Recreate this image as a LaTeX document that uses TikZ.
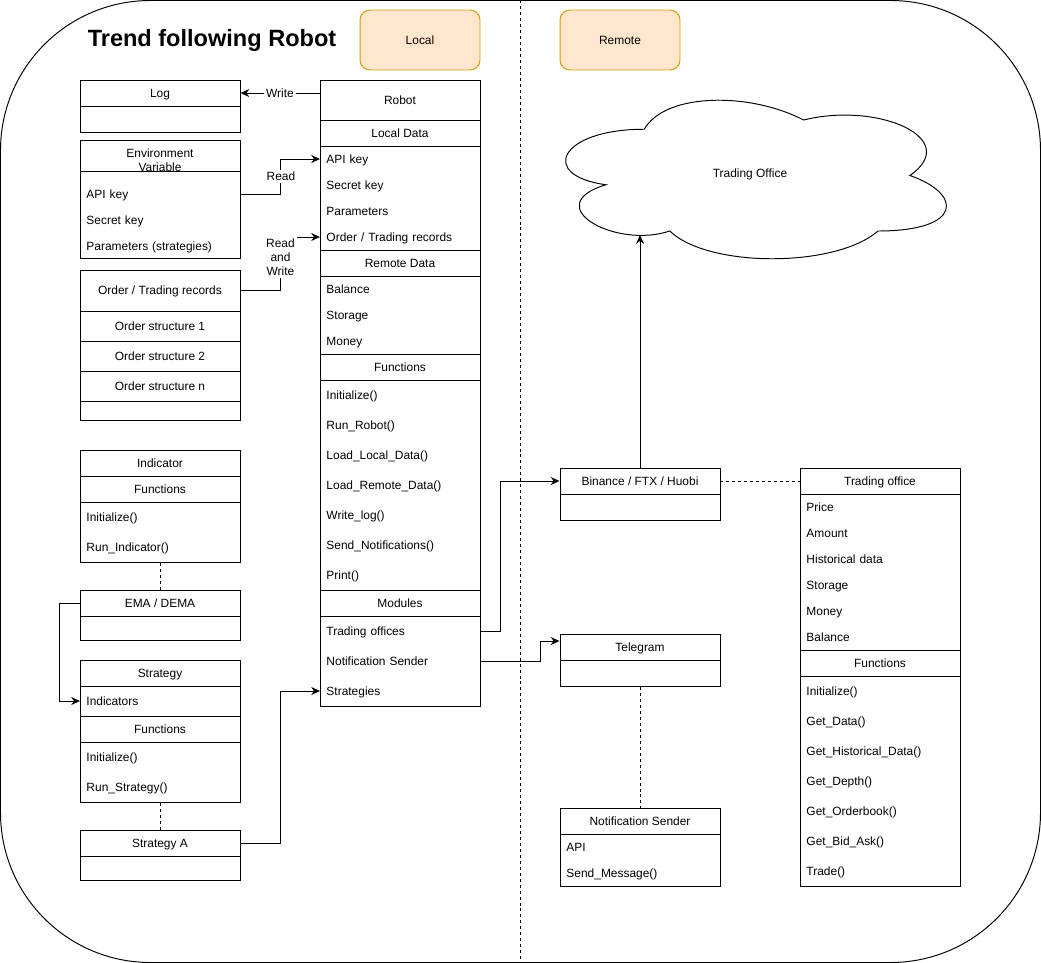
\documentclass[tikz,border=0pt]{standalone}
\usepackage{fontspec}
\setmainfont{Liberation Sans}
\usetikzlibrary{arrows.meta}

\definecolor{zonefill}{HTML}{FFE6CC}
\definecolor{zonedraw}{HTML}{D79B00}

\tikzset{
  txt/.style={font=\fontsize{6.8}{8.1}\selectfont, inner sep=0pt},
  oneline/.style={text height=6.2pt, text depth=1.5pt},
  hdr/.style={txt, oneline, minimum width=3.2cm, minimum height=0.52cm, align=center},
  hdrtwo/.style={txt, minimum width=3.2cm, align=center},
  item/.style={txt, oneline, anchor=west, text width=2.96cm, inner xsep=0.12cm, align=left},
  umlbox/.style={draw, anchor=north west, minimum width=3.2cm, inner sep=0pt},
  lbl/.style={txt, fill=white, align=center, inner sep=1pt},
  zone/.style={txt, draw=zonedraw, fill=zonefill, rounded corners=0.2cm,
    minimum width=2.4cm, minimum height=1.2cm},
  dashln/.style={dash pattern=on 1.7pt off 1.7pt}
}

\begin{document}
\begin{tikzpicture}[x=0.02cm, y=-0.02cm, line width=0.55pt,
  >={Stealth[length=5pt,width=4.5pt]}]

\useasboundingbox (0,0) rectangle (1041,963);

% outer frame and local / remote split
\draw [rounded corners=3cm] (0.5,0.5) rectangle (1040.5,962.5);
\draw [dashln] (520,0.5) -- (520,962.5);

\node [font=\fontsize{13.4}{16}\selectfont\bfseries, anchor=base] (title) at (212,47) {Trend following Robot};
\node [zone] (local) at (420,40) {Local};
\node [zone] (remote) at (620,40) {Remote};

% left column
\node [umlbox, minimum height=1.04cm] (log) at (80,80) {};
\draw (80,106) -- ++(160,0);
\node [hdr] (log-hdr) at (160,93) {Log};

\node [umlbox, minimum height=2.36cm] (env) at (80,140) {};
\draw (80,171) -- ++(160,0);
\node [hdrtwo] (env-hdr) at (160,160.5) {Environment\\Variable};
\node [item] (env-api) at (80,194) {API key};
\node [item] (env-sec) at (80,220) {Secret key};
\node [item] (env-par) at (80,246) {Parameters (strategies)};

\node [umlbox, minimum height=3cm] (ord) at (80,270) {};
\draw (80,311) -- ++(160,0);
\draw (80,341) -- ++(160,0);
\draw (80,371) -- ++(160,0);
\draw (80,401) -- ++(160,0);
\node [hdr] (ord-hdr) at (160,290) {Order / Trading records};
\node [hdr] (ord-1) at (160,326) {Order structure 1};
\node [hdr] (ord-2) at (160,356) {Order structure 2};
\node [hdr] (ord-n) at (160,386) {Order structure n};

\node [umlbox, minimum height=2.24cm] (ind) at (80,450) {};
\draw (80,476) -- ++(160,0);
\draw (80,502) -- ++(160,0);
\node [hdr] (ind-hdr) at (160,463) {Indicator};
\node [hdr] (ind-fn) at (160,489) {Functions};
\node [item] (ind-init) at (80,517) {Initialize()};
\node [item] (ind-run) at (80,547) {Run\_Indicator()};

\node [umlbox, minimum height=1cm] (ema) at (80,590) {};
\draw (80,616) -- ++(160,0);
\node [hdr] (ema-hdr) at (160,603) {EMA / DEMA};

\node [umlbox, minimum height=2.84cm] (strat) at (80,660) {};
\draw (80,686) -- ++(160,0);
\draw (80,716) -- ++(160,0);
\draw (80,742) -- ++(160,0);
\node [hdr] (st-hdr) at (160,673) {Strategy};
\node [item] (st-ind) at (80,701) {Indicators};
\node [hdr] (st-fn) at (160,729) {Functions};
\node [item] (st-init) at (80,757) {Initialize()};
\node [item] (st-run) at (80,787) {Run\_Strategy()};

\node [umlbox, minimum height=1cm] (sa) at (80,830) {};
\draw (80,856) -- ++(160,0);
\node [hdr] (sa-hdr) at (160,843) {Strategy A};

% robot
\node [umlbox, minimum height=12.52cm] (rb) at (320,80) {};
\draw (320,120) -- ++(160,0);
\draw (320,146) -- ++(160,0);
\draw (320,250) -- ++(160,0);
\draw (320,276) -- ++(160,0);
\draw (320,354) -- ++(160,0);
\draw (320,380) -- ++(160,0);
\draw (320,590) -- ++(160,0);
\draw (320,616) -- ++(160,0);
\node [hdr, minimum height=0.8cm] (rb-hdr) at (400,100) {Robot};
\node [hdr] (rb-loc) at (400,133) {Local Data};
\node [item] (rb-api) at (320,159) {API key};
\node [item] (rb-sec) at (320,185) {Secret key};
\node [item] (rb-par) at (320,211) {Parameters};
\node [item] (rb-ord) at (320,237) {Order / Trading records};
\node [hdr] (rb-rem) at (400,263) {Remote Data};
\node [item] (rb-bal) at (320,289) {Balance};
\node [item] (rb-sto) at (320,315) {Storage};
\node [item] (rb-mon) at (320,341) {Money};
\node [hdr] (rb-fn) at (400,367) {Functions};
\node [item] (rb-init) at (320,395) {Initialize()};
\node [item] (rb-run) at (320,425) {Run\_Robot()};
\node [item] (rb-lld) at (320,455) {Load\_Local\_Data()};
\node [item] (rb-lrd) at (320,485) {Load\_Remote\_Data()};
\node [item] (rb-wl) at (320,515) {Write\_log()};
\node [item] (rb-sn) at (320,545) {Send\_Notifications()};
\node [item] (rb-pr) at (320,575) {Print()};
\node [hdr] (rb-mod) at (400,603) {Modules};
\node [item] (rb-to) at (320,631) {Trading offices};
\node [item] (rb-ns) at (320,661) {Notification Sender};
\node [item] (rb-str) at (320,691) {Strategies};

% remote side
\draw (644.25,129.25) .. controls (559.25,129.25) and (538,175.5) .. (606,184.75)
  .. controls (538,205.1) and (614.5,249.5) .. (669.75,231)
  .. controls (708,268) and (835.5,268) .. (878,231)
  .. controls (963,231) and (963,194) .. (909.9,175.5)
  .. controls (963,138.5) and (878,101.5) .. (803.6,120)
  .. controls (750.5,92.25) and (665.5,92.25) .. (644.25,129.25) -- cycle;
\node [txt, oneline] (cloud) at (750,173) {Trading Office};
\coordinate (cloud-bot) at (640,235);

\node [umlbox, minimum height=1.04cm] (bn) at (560,468) {};
\draw (560,494) -- ++(160,0);
\node [hdr] (bn-hdr) at (640,481) {Binance / FTX / Huobi};

\node [umlbox, minimum height=1.04cm] (tg) at (560,634) {};
\draw (560,660) -- ++(160,0);
\node [hdr] (tg-hdr) at (640,647) {Telegram};

\node [umlbox, minimum height=1.56cm] (ns) at (560,808) {};
\draw (560,834) -- ++(160,0);
\node [hdr] (ns-hdr) at (640,821) {Notification Sender};
\node [item] (ns-api) at (560,847) {API};
\node [item] (ns-send) at (560,873) {Send\_Message()};

\node [umlbox, minimum height=8.36cm] (to) at (800,468) {};
\draw (800,494) -- ++(160,0);
\draw (800,650) -- ++(160,0);
\draw (800,676) -- ++(160,0);
\node [hdr] (to-hdr) at (880,481) {Trading office};
\node [item] (to-pri) at (800,507) {Price};
\node [item] (to-amt) at (800,533) {Amount};
\node [item] (to-his) at (800,559) {Historical data};
\node [item] (to-sto) at (800,585) {Storage};
\node [item] (to-mon) at (800,611) {Money};
\node [item] (to-bal) at (800,637) {Balance};
\node [hdr] (to-fn) at (880,663) {Functions};
\node [item] (to-init) at (800,691) {Initialize()};
\node [item] (to-gd) at (800,721) {Get\_Data()};
\node [item] (to-ghd) at (800,751) {Get\_Historical\_Data()};
\node [item] (to-gdp) at (800,781) {Get\_Depth()};
\node [item] (to-gob) at (800,811) {Get\_Orderbook()};
\node [item] (to-gba) at (800,841) {Get\_Bid\_Ask()};
\node [item] (to-tr) at (800,871) {Trade()};

% connectors
\draw [->] (rb-hdr.west |- log-hdr.east) -- node [lbl] {Write} (log-hdr.east);
\draw [->] (env-api.east) -- ++(40,0) |- node [lbl, pos=0.25] {Read} (rb-api.west);
\draw [->] (ord-hdr.east) -- ++(40,0) |- node [lbl, pos=0.31] {Read\\and\\Write} (rb-ord.west);
\draw [->] (ema-hdr.west) -- ++(-20,0) |- (st-ind.west);
\draw [->] (sa-hdr.east) -- ++(40,0) |- (rb-str.west);
\draw [->] (rb-to.east) -- ++(20,0) |- (bn-hdr.west);
\draw [->] (rb-ns.east) -- ++(60,0) |- ([yshift=0.12cm]tg-hdr.west);
\draw [->] (bn-hdr.north) -- (cloud-bot);

\draw [dashln] (ind.south) -- (ema.north);
\draw [dashln] (strat.south) -- (sa.north);
\draw [dashln] (bn-hdr.east) -- (to-hdr.west);
\draw [dashln] (tg.south) -- (ns.north);

\end{tikzpicture}
\end{document}
